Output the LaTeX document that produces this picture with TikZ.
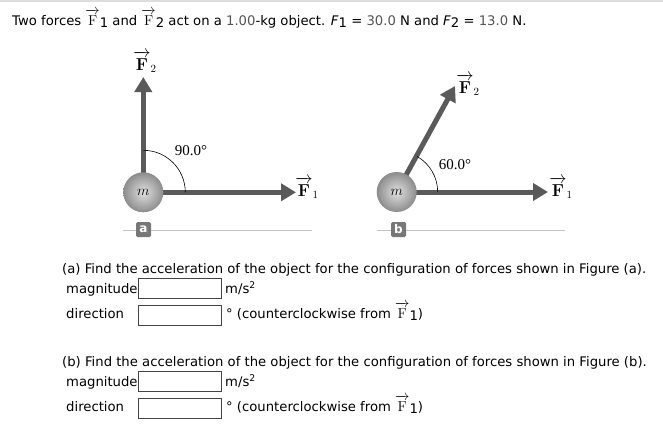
\documentclass[tikz,border=0pt]{standalone}
\usepackage{amsmath}
\usepackage[no-math]{fontspec}
\setmainfont{DejaVu Sans}
\newfontfamily\serifont{Liberation Serif}
\usetikzlibrary{arrows.meta}
\pgfdeclarelayer{bg}
\pgfsetlayers{bg,main}
\definecolor{arrowgray}{HTML}{5A5A5A}
\definecolor{numgray}{HTML}{555555}
\definecolor{boxgray}{HTML}{444444}
\definecolor{taggray}{HTML}{777777}
\definecolor{linegray}{HTML}{C4C4C4}
\definecolor{topgray}{HTML}{DDDDDD}
\newcommand\vecF[1]{{\fontsize{15}{15}\selectfont$\overrightarrow{\rule{0pt}{0.72em}\mathrm{F}}$}\raisebox{-2.5pt}{#1}}
\newcommand\sF[1]{\textit{F}\raisebox{-2.5pt}{#1}}
\newcommand\bF[1]{$\overrightarrow{\rule{0pt}{0.8em}\mathbf{F}}_{#1}$}
\begin{document}
\begin{tikzpicture}[x=1pt,y=-1pt,
  txt/.style={anchor=base west, inner sep=0pt, font=\fontsize{13.2}{16}\selectfont},
  ans/.style={draw=boxgray, line width=0.8pt, minimum width=83pt, minimum height=20pt, inner sep=0pt, anchor=north west},
  ball/.style={circle, minimum size=40pt, inner sep=0pt, inner color=black!12, outer color=black!45, font=\fontsize{15}{15}\selectfont},
  force/.style={draw=arrowgray, line width=5pt, -{Triangle[length=15pt,width=17pt]}},
  flab/.style={inner sep=0pt, font=\fontsize{16}{16}\selectfont},
  anglab/.style={inner sep=0pt, font=\serifont\fontsize{15}{15}\selectfont},
  tagbox/.style={fill=taggray, rounded corners=1.5pt, minimum size=15pt, inner sep=0pt, text=white, font=\bfseries\fontsize{12}{12}\selectfont},
  baseline/.style={draw=linegray, line width=1pt},
  angarc/.style={draw=black, line width=0.6pt}
]
\useasboundingbox (0,0) rectangle (663,434);
\begin{pgfonlayer}{bg}
\fill[white] (0,0) rectangle (663,434);
\end{pgfonlayer}
\draw[topgray, line width=2pt] (0,1) -- (663,1);

% title
\node[txt] (title) at (12,25) {Two forces \vecF{1} and \vecF{2} act on a {\color{numgray}1.00}-kg object. \sF{1} = {\color{numgray}30.0} N and \sF{2} = {\color{numgray}13.0} N.};

% ---------- figure a ----------
\draw[baseline] (123,230) -- (312,230);
\node[tagbox] (taga) at (143.5,229.5) {a};
\node[ball] (balla) at (143.3,192.3) {$m$};
\coordinate (F1atip) at (296,192.3);
\coordinate (F2atip) at (143.3,77);
\begin{pgfonlayer}{bg}
\draw[force] (balla.center) -- (F1atip);
\draw[force] (balla.center) -- (F2atip);
\end{pgfonlayer}
\draw[angarc] (185.3,192.3) arc[start angle=0, end angle=-90, radius=42];
\node[flab] (F1alab) at (307,188) {\bF{1}};
\node[flab] (F2alab) at (145,62) {\bF{2}};
\node[anglab] (anga) at (191,151) {90.0°};

% ---------- figure b ----------
\draw[baseline] (377,230) -- (565,230);
\node[tagbox] (tagb) at (398.5,229.5) {b};
\node[ball] (ballb) at (396.7,192) {$m$};
\coordinate (F1btip) at (548,192);
\coordinate (F2btip) at (455,86);
\begin{pgfonlayer}{bg}
\draw[force] (ballb.center) -- (F1btip);
\draw[force] (ballb.center) -- (F2btip);
\end{pgfonlayer}
\draw[angarc] (437.7,192) arc[start angle=0, end angle=-60, radius=41];
\node[flab] (F1blab) at (561,188) {\bF{1}};
\node[flab] (F2blab) at (468,85) {\bF{2}};
\node[anglab] (angb) at (455,165) {60.0°};

% ---------- part a ----------
\node[txt] (qa) at (62,273) {(a) Find the acceleration of the object for the configuration of forces shown in Figure (a).};
\node[txt] (maglaba) at (66,293) {magnitude};
\node[ans] (magboxa) at (138,278) {};
\node[txt] (magunita) at (225,293) {m/s\textsuperscript{2}};
\node[txt] (dirlaba) at (66,318) {direction};
\node[ans] (dirboxa) at (138,305) {};
\node[txt] (dirunita) at (226,318) {° (counterclockwise from \vecF{1})};

% ---------- part b ----------
\node[txt] (qb) at (62,366) {(b) Find the acceleration of the object for the configuration of forces shown in Figure (b).};
\node[txt] (maglabb) at (66,386) {magnitude};
\node[ans] (magboxb) at (138,371) {};
\node[txt] (magunitb) at (225,386) {m/s\textsuperscript{2}};
\node[txt] (dirlabb) at (66,411) {direction};
\node[ans] (dirboxb) at (138,398) {};
\node[txt] (dirunitb) at (226,411) {° (counterclockwise from \vecF{1})};
\end{tikzpicture}
\end{document}
